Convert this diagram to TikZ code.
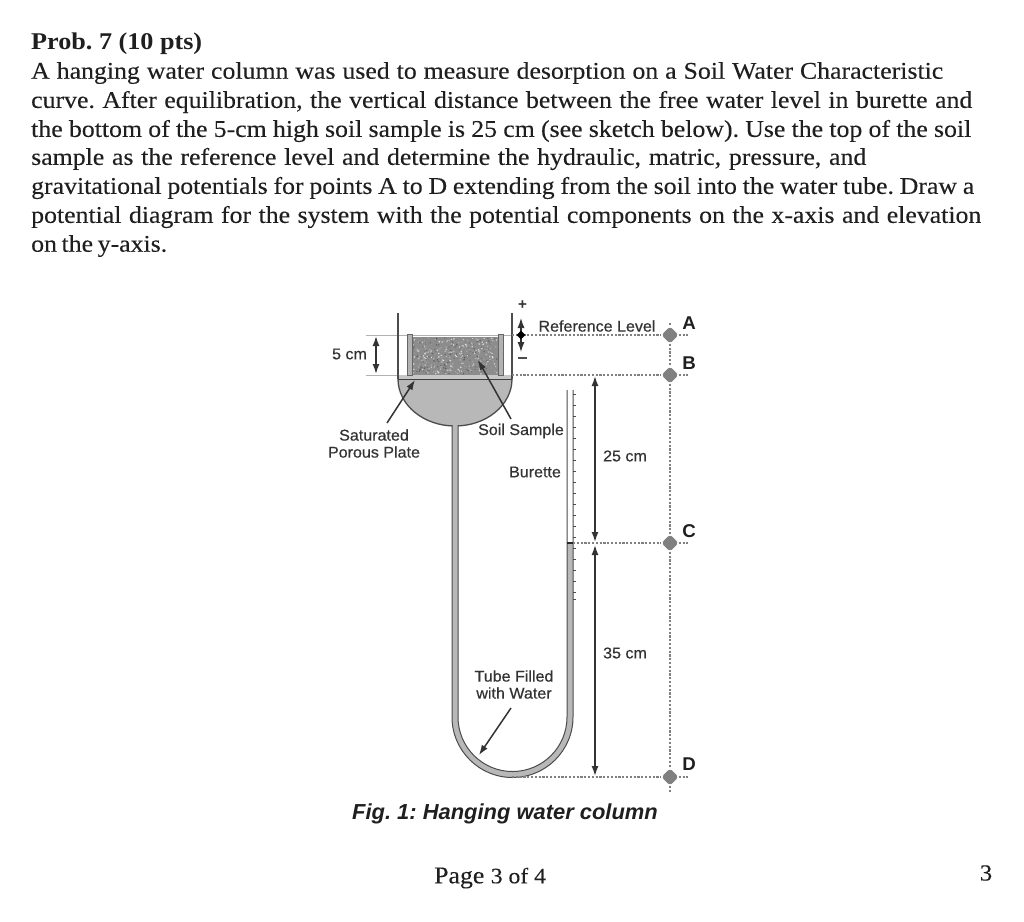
\documentclass[tikz,border=0pt]{standalone}
\usepackage{fontspec}
\setmainfont{Liberation Serif}
\newfontfamily\figfont[FakeStretch=1.03,FakeBold=0.45]{Liberation Sans}
\newfontfamily\capfont[FakeStretch=1.01]{Liberation Sans}
\newfontfamily\bodyfont[FakeStretch=1.075,FakeBold=0.15]{Liberation Serif}
\newfontfamily\boldfont[FakeStretch=1.09]{Liberation Serif}
\usetikzlibrary{arrows.meta,shapes.geometric}
\definecolor{ink}{gray}{0.12}
\definecolor{lab}{gray}{0.2}
\definecolor{fillg}{gray}{0.72}
\definecolor{dotg}{gray}{0.5}
\tikzset{
 x=1pt,y=-1pt,
 line/.style={anchor=west,inner sep=0pt,font=\bodyfont\fontsize{24}{28}\selectfont\frenchspacing,text=ink},
 lbl/.style={inner sep=0pt,align=center,font=\figfont\fontsize{15.6}{17}\selectfont,text=lab},
 letter/.style={inner sep=0pt,font=\capfont\bfseries\fontsize{18.5}{20}\selectfont,text=ink},
 wall/.style={draw=black!70,line width=1.3pt},
 arr/.style={draw=black!80,line width=1.5pt,-{Latex[length=10pt,width=7pt]}},
 arrb/.style={draw=black!80,line width=1.5pt,{Latex[length=10pt,width=7pt]}-{Latex[length=10pt,width=7pt]}},
 dotl/.style={draw=black!50,line width=1.2pt,dash pattern=on 2.2pt off 1.6pt},
 bullet/.style={diamond,fill=dotg,minimum size=17pt,inner sep=0pt,rounded corners=3pt},
}
\begin{document}
\begin{tikzpicture}
\useasboundingbox[fill=white] (0,0) rectangle (1024,921);
% text
\node[line,font=\boldfont\bfseries\fontsize{24}{28}\selectfont\frenchspacing] (title) at (31,44) {Prob. 7 (10 pts)};
\node[line] (l1) at (31,73) {\hbox to 912pt{A hanging water column was used to measure desorption on a Soil Water Characteristic}};
\node[line] (l2) at (31,102) {\hbox to 941pt{curve. After equilibration, the vertical distance between the free water level in burette and}};
\node[line] (l3) at (31,131) {\hbox to 940pt{the bottom of the 5-cm high soil sample is 25 cm (see sketch below). Use the top of the soil}};
\node[line] (l4) at (31,159) {\hbox to 835pt{sample as the reference level and determine the hydraulic, matric, pressure, and}};
\node[line] (l5) at (31,188) {\hbox to 943pt{gravitational potentials for points A to D extending from the soil into the water tube. Draw a}};
\node[line] (l6) at (31,217) {\hbox to 950pt{potential diagram for the system with the potential components on the x-axis and elevation}};
\node[line] (l7) at (31,246) {\hbox to 136pt{on the y-axis.}};
% guide lines
\draw[black!30,line width=.6pt] (366,335) -- (512,335);
\draw[black!30,line width=.6pt] (366,375) -- (398,375);
% bowl
\draw[wall,fill=fillg] (398,379) arc[start angle=180,end angle=360,x radius=57,y radius=-47] -- cycle;
\fill[black!22] (398,375) rectangle (512,379);
\draw[black!75,line width=.9pt] (398,379.3) -- (512,379.3);
% soil
\fill[black!45] (412,337) rectangle (498,375);
\pgfmathsetseed{7}
\foreach \i in {1,...,420}{
  \pgfmathsetmacro{\px}{413+84*rnd}
  \pgfmathsetmacro{\py}{338+36*rnd}
  \pgfmathsetmacro{\sh}{int(8+60*rnd)}
  \fill[black!\sh] (\px,\py) circle[radius=.8pt];
}
\draw[draw=black!60,fill=black!30,line width=.6pt] (407,334) rectangle (412,375);
\draw[draw=black!60,fill=black!30,line width=.6pt] (498,334) rectangle (503,375);
% outer walls
\draw[wall] (398,313) -- (398,379);
\draw[wall] (512,313) -- (512,379);
% U tube
\fill[fillg] (452,424) -- (452,717) arc[start angle=180,end angle=360,x radius=60.5,y radius=-60.5] -- (573,543) -- (567,543) -- (567,717) arc[start angle=360,end angle=180,x radius=54.5,y radius=-54.5] -- (458,424) -- cycle;
\draw[black!70,line width=1pt] (452,425) -- (452,717) arc[start angle=180,end angle=360,x radius=60.5,y radius=-60.5] -- (573,390);
\draw[black!70,line width=1pt] (458,425) -- (458,717) arc[start angle=180,end angle=360,x radius=54.5,y radius=-54.5] -- (567,390);
\draw[black!85,line width=1.2pt] (567,543) -- (573,543);
% burette ticks
\foreach \yy in {394,405,416,427,438,449,460,471,482,493,504,515,526,537,548,559,570,581,592,599}
  \draw[black!70,line width=.7pt] (573,\yy) -- (575.5,\yy);
% named points
\node[bullet] (A) at (670,335) {};
\node[bullet] (B) at (670,375) {};
\node[bullet] (C) at (670,543) {};
\node[bullet] (D) at (670,777) {};
\coordinate (vtop) at (670,323);
\coordinate (vbot) at (670,792);
\coordinate (aend) at (688,335);
\coordinate (bend) at (688,375);
\coordinate (cend) at (688,543);
\coordinate (dend) at (688,777);
\coordinate (astart) at (512,335);
\coordinate (bstart) at (512,375);
\coordinate (cstart) at (573,543);
\coordinate (dstart) at (512,777);
\draw[dotl] (vtop) -- (A) -- (B) -- (C) -- (D) -- (vbot);
\draw[dotl] (astart) -- (A) -- (aend);
\draw[dotl] (bstart) -- (B) -- (bend);
\draw[dotl] (cstart) -- (C) -- (cend);
\draw[dotl] (dstart) -- (D) -- (dend);
\node[bullet] at (A) {};
\node[bullet] at (B) {};
\node[bullet] at (C) {};
\node[bullet] at (D) {};
% dimension arrows
\coordinate (five1) at (376,336); \coordinate (five2) at (376,374);
\draw[arrb] (five1) -- (five2);
\coordinate (ref1) at (521,318); \coordinate (ref2) at (521,352);
\draw[arrb,line width=1.2pt] (ref1) -- (ref2);
\node[diamond,fill=black,minimum size=9pt,inner sep=0pt] (refdot) at (521,335) {};
\coordinate (m25a) at (595,376); \coordinate (m25b) at (595,542);
\draw[arrb] (m25a) -- (m25b);
\coordinate (m35a) at (595,545); \coordinate (m35b) at (595,776);
\draw[arrb] (m35a) -- (m35b);
% pointer arrows
\coordinate (p1) at (387,423); \coordinate (p2) at (415,380);
\draw[arr] (p1) -- (p2);
\coordinate (s1) at (511,419); \coordinate (s2) at (478,360);
\draw[arr] (s1) -- (s2);
\coordinate (t1) at (511,708); \coordinate (t2) at (479,755);
\draw[arr] (t1) -- (t2);
% labels
\node[lbl,font=\capfont\bfseries\fontsize{15}{16}\selectfont] (plus) at (522.5,305) {+};
\draw[black!70,line width=1.2pt] (518,358) -- (527,358);
\node[lbl] (ref) at (597,326) {Reference Level};
\node[lbl] (five) at (349.5,354) {5 cm};
\node[lbl] (sat) at (374,443.5) {Saturated\\Porous Plate};
\node[lbl] (soil) at (521,431) {Soil Sample};
\node[lbl] (bur) at (535,472) {Burette};
\node[lbl] (c25) at (625,456) {25 cm};
\node[lbl] (c35) at (625,653) {35 cm};
\node[lbl] (tube) at (514,684.5) {Tube Filled\\with Water};
\node[letter] (la) at (689,323) {A};
\node[letter] (lb) at (689,363) {B};
\node[letter] (lc) at (689,531) {C};
\node[letter] (ld) at (689,764) {D};
\node[inner sep=0pt,font=\capfont\bfseries\itshape\fontsize{21.7}{24}\selectfont\frenchspacing,text=ink] (cap) at (505,814) {Fig. 1: Hanging water column};
\node[inner sep=0pt,anchor=west,text=ink] (page) at (434,878) {\bodyfont\fontsize{24}{28}\selectfont Page \fontsize{22}{28}\selectfont 3 of 4};
\node[inner sep=0pt,text=ink,font=\bodyfont\fontsize{23}{28}\selectfont] (num) at (986,873) {3};
\end{tikzpicture}
\end{document}
